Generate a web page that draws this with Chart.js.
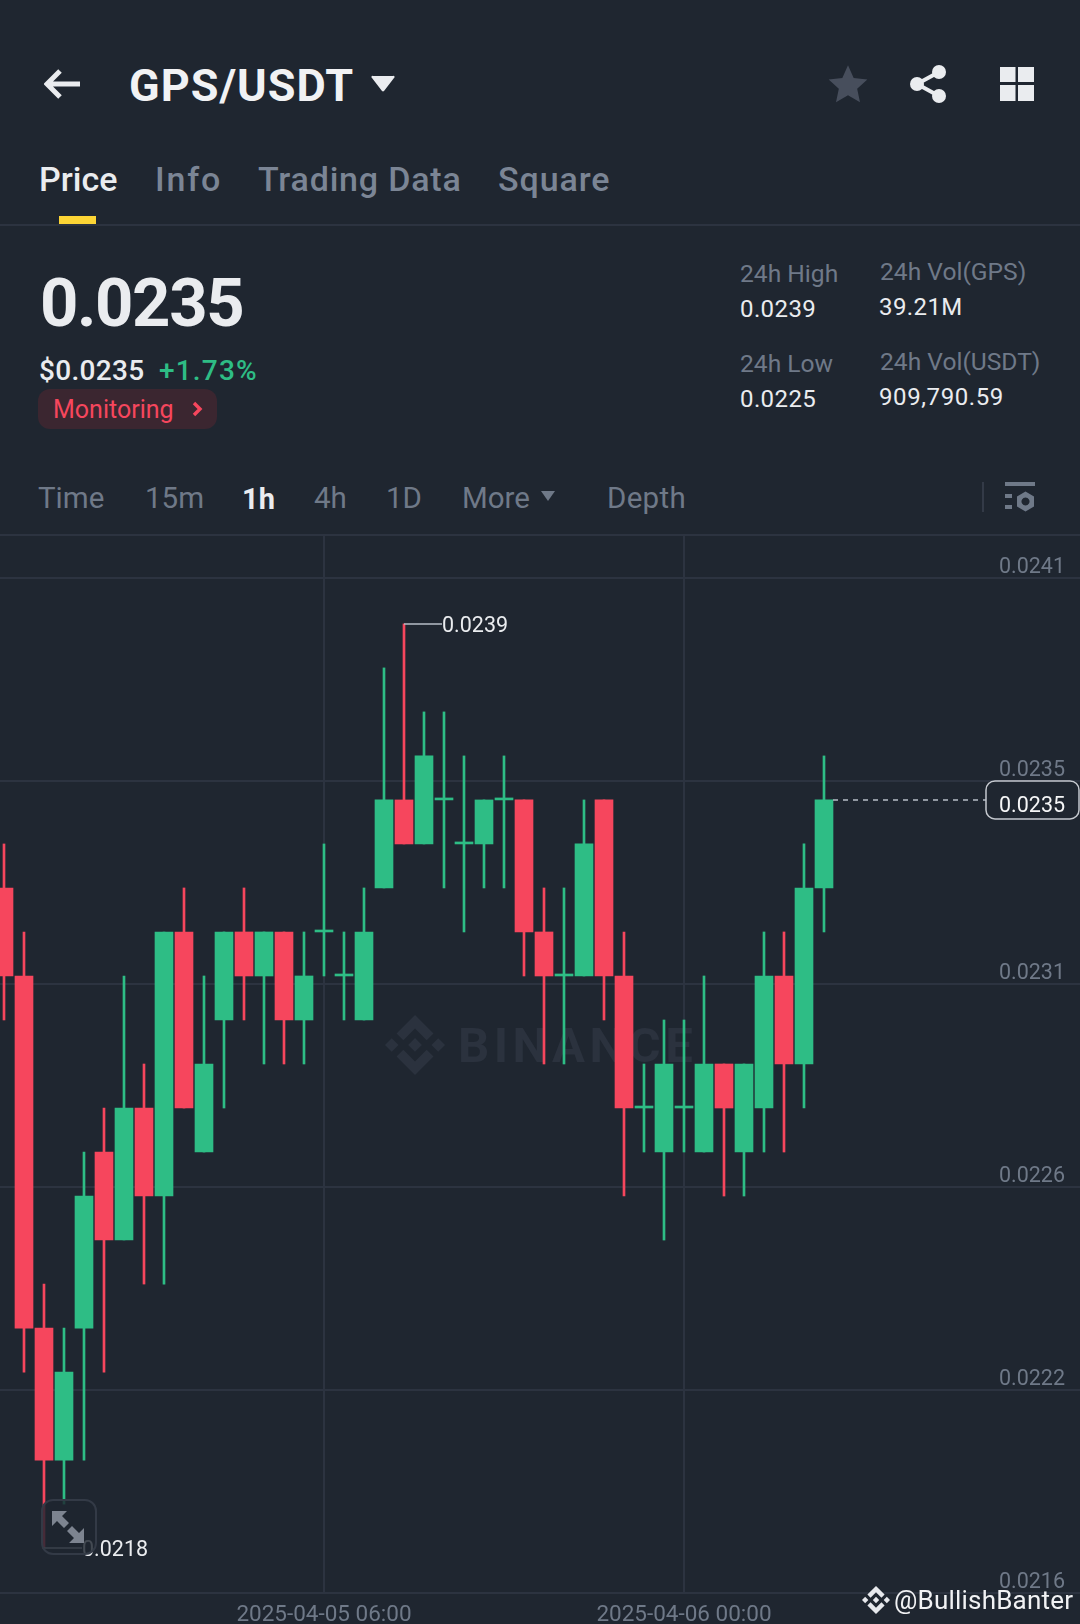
<!DOCTYPE html>
<html>
<head>
<meta charset="utf-8">
<title>GPS/USDT</title>
<script src="https://cdn.jsdelivr.net/npm/chart.js@4"></script>
<style>
  html, body { margin: 0; padding: 0; background: #1f2630; }
  body { position: relative; width: 1080px; height: 1624px; overflow: hidden; font-family: Roboto, sans-serif; color: #eaecef; }
  .t { position: absolute; white-space: nowrap; line-height: 1; transform: translateY(-50%); }
  .tab { font-size: 34px; font-weight: 500; color: #7b8595; letter-spacing: 0.8px; }
  .iv { font-size: 29.5px; color: #6f7988; letter-spacing: 0; }
  .lab { font-size: 24.6px; color: #6f7988; letter-spacing: 0; }
  .val { font-size: 24px; color: #eaecef; letter-spacing: 0.4px; }
  .line { position: absolute; left: 0; width: 1080px; height: 2px; background: #2c3340; }
  svg { position: absolute; }
  #wrap { position: absolute; left: 0; top: 535px; width: 1080px; height: 1089px; }
</style>
</head>
<body>

<!-- header -->
<svg style="left:44px;top:68px" width="38" height="32" viewBox="0 0 38 32"><path d="M36 16H4M16 3L3 16l13 13" fill="none" stroke="#eaecef" stroke-width="5"/></svg>
<div class="t" style="left:129px;top:85px;font-size:45px;font-weight:700;letter-spacing:1px;color:#f1f2f4">GPS/USDT</div>
<svg style="left:371px;top:75px" width="24" height="18" viewBox="0 0 24 18"><path d="M2 1h20a1 1 0 0 1 1 2L13 16a1.5 1.5 0 0 1-2 0L1 3a1 1 0 0 1 1-2z" fill="#eaecef"/></svg>

<svg style="left:828px;top:64px" width="40" height="40" viewBox="0 0 24 24"><path d="M12 .8l3.4 7.6 8.2.9-6.1 5.5 1.7 8.1-7.2-4.1-7.2 4.1 1.7-8.1L.4 9.3l8.2-.9z" fill="#474e5c"/></svg>
<svg style="left:909px;top:64px" width="38" height="40" viewBox="0 0 38 40"><g fill="#eaecef"><circle cx="8" cy="20" r="7"/><circle cx="30" cy="8" r="7"/><circle cx="30" cy="32" r="7"/></g><path d="M8 20L30 8M8 20l22 12" stroke="#eaecef" stroke-width="4"/></svg>
<svg style="left:1000px;top:67px" width="34" height="34" viewBox="0 0 34 34"><path d="M0 0h15.500v15H0zM18 0h16v15H18zM0 18h15.500v16H0zM18 18h16v16H18z" fill="#eaecef"/></svg>

<div class="t tab" style="left:39px;top:179px;color:#eaecef;letter-spacing:0">Price</div>
<div class="t tab" style="left:155px;top:179px;letter-spacing:1.8px">Info</div>
<div class="t tab" style="left:258px;top:179px">Trading Data</div>
<div class="t tab" style="left:498px;top:179px;letter-spacing:0.9px">Square</div>
<div style="position:absolute;left:59px;top:216px;width:37px;height:8px;background:#fcd535"></div>
<div class="line" style="top:224px"></div>

<div class="t" style="left:40px;top:303px;font-size:67px;font-weight:700;color:#eaecef;letter-spacing:-1.4px">0.0235</div>
<div class="t" style="left:39px;top:371px;font-size:28px;font-weight:500;color:#eaecef;letter-spacing:0.3px">$0.0235</div>
<div class="t" style="left:159px;top:371px;font-size:28px;font-weight:500;color:#2ebd85;letter-spacing:1.2px">+1.73%</div>
<div style="position:absolute;left:38px;top:389px;width:179px;height:40px;border-radius:12px;background:#3b2630"></div>
<div class="t" style="left:53px;top:409px;font-size:25px;color:#f6465d">Monitoring</div>
<svg style="left:192px;top:401px" width="11" height="16" viewBox="0 0 11 16"><path d="M2 2l6 6-6 6" fill="none" stroke="#f6465d" stroke-width="3.4"/></svg>

<div class="t lab" style="left:740px;top:274px">24h High</div>
<div class="t val" style="left:740px;top:309px">0.0239</div>
<div class="t lab" style="left:740px;top:364px">24h Low</div>
<div class="t val" style="left:740px;top:399px">0.0225</div>
<div class="t lab" style="left:880px;top:272px">24h Vol(GPS)</div>
<div class="t val" style="left:879px;top:307px">39.21M</div>
<div class="t lab" style="left:880px;top:362px">24h Vol(USDT)</div>
<div class="t val" style="left:879px;top:397px;letter-spacing:0.6px">909,790.59</div>

<div class="t iv" style="left:38px;top:499px">Time</div>
<div class="t iv" style="left:145px;top:499px">15m</div>
<div class="t iv" style="left:242px;top:499px;color:#eaecef;font-weight:700;font-size:29px">1h</div>
<div class="t iv" style="left:314px;top:499px">4h</div>
<div class="t iv" style="left:386px;top:499px">1D</div>
<div class="t iv" style="left:462px;top:499px">More</div>
<svg style="left:540px;top:490px" width="16" height="12" viewBox="0 0 16 12"><path d="M1 1h14L8 11z" fill="#6f7988"/></svg>
<div class="t iv" style="left:607px;top:499px;letter-spacing:0.3px">Depth</div>
<div style="position:absolute;left:982px;top:482px;width:2px;height:30px;background:#333a47"></div>
<svg style="left:1005px;top:482px" width="30" height="30" viewBox="0 0 30 30"><g fill="#6f7988"><path d="M0 0h30v4H0zM0 12h7v4H0zM0 23h7v4H0z"/><path d="M20.500 9.500l8.500 5v10l-8.500 5-8.500-5v-10zM20.500 15.500a4 4 0 1 0 .01 0z" fill-rule="evenodd"/></g></svg>
<div class="line" style="top:534px"></div>

<!-- watermark sits under the transparent canvas -->
<svg style="left:385px;top:1015px" width="60" height="60" viewBox="0 0 126.61 126.61"><g fill="#2b323e"><path d="M38.73 53.2l24.59-24.58 24.6 24.6 14.3-14.31L63.32 0 24.43 38.9z"/><path d="M0 63.31l14.3-14.31 14.31 14.31-14.31 14.3z"/><path d="M38.73 73.41l24.59 24.59 24.6-24.6 14.31 14.29-38.9 38.91-38.91-38.88-.02-.02z"/><path d="M98 63.31l14.3-14.31 14.31 14.31-14.31 14.3z"/><path d="M77.83 63.3L63.32 48.78 52.59 59.51l-1.24 1.23-2.54 2.54 14.51 14.5 14.51-14.47z"/></g></svg>
<div class="t" style="left:458px;top:1045px;font-size:49px;font-weight:700;color:#2b323e;letter-spacing:4.5px">BINANCE</div>

<div id="wrap"><canvas id="kline" width="1080" height="1089"></canvas></div>

<!-- expand button -->
<div style="position:absolute;left:41px;top:1499px;width:52px;height:52px;border:2px solid #333a46;border-radius:12px;background:rgba(31,38,48,0.82)"></div>
<svg style="left:51px;top:1510px" width="34" height="34" viewBox="0 0 34 34"><g fill="#7d8490"><path d="M1 1h15l-5 5 7 7-5 5-7-7-5 5z"/><path d="M33 33H18l5-5-7-7 5-5 7 7 5-5z"/></g></svg>

<!-- credit -->
<svg style="left:862px;top:1586px" width="28" height="28" viewBox="0 0 126.61 126.61"><g fill="#e6e8ec"><path d="M38.73 53.2l24.59-24.58 24.6 24.6 14.3-14.31L63.32 0 24.43 38.9z"/><path d="M0 63.31l14.3-14.31 14.31 14.31-14.31 14.3z"/><path d="M38.73 73.41l24.59 24.59 24.6-24.6 14.31 14.29-38.9 38.91-38.91-38.88-.02-.02z"/><path d="M98 63.31l14.3-14.31 14.31 14.31-14.31 14.3z"/><path d="M77.83 63.3L63.32 48.78 52.59 59.51l-1.24 1.23-2.54 2.54 14.51 14.5 14.51-14.47z"/></g></svg>
<div class="t" style="left:894px;top:1600px;font-size:26px;color:#f1f2f4;letter-spacing:0.2px">@BullishBanter</div>

<script>
// 1h candles, first one is 2025-04-04 14:00
const opens  = [0.0233,0.0231,0.0223,0.0220,0.0223,0.0227,0.0225,0.0228,0.0226,0.0232,0.0227,0.0230,0.0232,0.0231,0.0232,0.0230,0.0232,0.0231,0.0230,0.0233,0.0235,0.0234,0.0235,0.0234,0.0234,0.0235,0.0235,0.0232,0.0231,0.0231,0.0235,0.0231,0.0228,0.0227,0.0228,0.0227,0.0229,0.0227,0.0228,0.0231,0.0229,0.0233];
const closes = [0.0231,0.0223,0.0220,0.0222,0.0226,0.0225,0.0228,0.0226,0.0232,0.0228,0.0229,0.0232,0.0231,0.0232,0.0230,0.0231,0.0232,0.0231,0.0232,0.0235,0.0234,0.0236,0.0235,0.0234,0.0235,0.0235,0.0232,0.0231,0.0231,0.0234,0.0231,0.0228,0.0228,0.0229,0.0228,0.0229,0.0228,0.0229,0.0231,0.0229,0.0233,0.0235];
const highs  = [0.0234,0.0232,0.0224,0.0223,0.0227,0.0228,0.0231,0.0229,0.0232,0.0233,0.0231,0.0232,0.0233,0.0232,0.0232,0.0232,0.0234,0.0232,0.0233,0.0238,0.0239,0.0237,0.0237,0.0236,0.0235,0.0236,0.0235,0.0233,0.0233,0.0235,0.0235,0.0232,0.0229,0.0230,0.0230,0.0231,0.0229,0.0229,0.0232,0.0232,0.0234,0.0236];
const lows   = [0.0230,0.0222,0.0218,0.0219,0.0220,0.0222,0.0225,0.0224,0.0224,0.0228,0.0227,0.0228,0.0230,0.0229,0.0229,0.0229,0.0231,0.0230,0.0230,0.0233,0.0234,0.0234,0.0233,0.0232,0.0233,0.0233,0.0231,0.0229,0.0229,0.0231,0.0230,0.0226,0.0227,0.0225,0.0227,0.0227,0.0226,0.0226,0.0227,0.0227,0.0228,0.0232];

const priceGrid = [0.024005, 0.023543, 0.023082, 0.022621, 0.022160, 0.021698];
const priceLabels = ['0.0241', '0.0235', '0.0231', '0.0226', '0.0222', '0.0216'];
const timeTicks = [16, 34];
const timeLabels = ['2025-04-05 06:00', '2025-04-06 00:00'];
const lastPrice = 0.0235;

const UP = '#2ebd85';
const DOWN = '#f6465d';
const GRID = '#2c3340';
const colors = opens.map((o, i) => closes[i] >= o ? UP : DOWN);

const fmt = v => v.toFixed(4);

// high / low markers and the last price tag
const marks = {
  id: 'marks',
  afterDatasetsDraw(chart) {
    const ctx = chart.ctx;
    const x = chart.scales.x, y = chart.scales.y;
    ctx.save();
    ctx.font = '21.5px Roboto';
    ctx.textBaseline = 'middle';
    ctx.textAlign = 'left';

    const hi = Math.max(...highs), lo = Math.min(...lows);
    const hiX = x.getPixelForValue(highs.indexOf(hi));
    const loX = x.getPixelForValue(lows.indexOf(lo));
    ctx.strokeStyle = '#b7bdc6';
    ctx.lineWidth = 1.5;
    ctx.beginPath();
    ctx.moveTo(hiX, y.getPixelForValue(hi));
    ctx.lineTo(hiX + 38, y.getPixelForValue(hi));
    ctx.moveTo(loX, y.getPixelForValue(lo));
    ctx.lineTo(loX + 38, y.getPixelForValue(lo));
    ctx.stroke();
    ctx.fillStyle = '#eaecef';
    ctx.fillText(fmt(hi), hiX + 38, y.getPixelForValue(hi) + 3);
    ctx.fillText(fmt(lo), loX + 38, y.getPixelForValue(lo) + 3);

    const py = y.getPixelForValue(lastPrice);
    ctx.setLineDash([5, 5]);
    ctx.beginPath();
    ctx.moveTo(x.getPixelForValue(opens.length - 1) + 9, py);
    ctx.lineTo(986, py);
    ctx.stroke();
    ctx.setLineDash([]);

    ctx.beginPath();
    ctx.roundRect(986, py - 19, 93, 38, 9);
    ctx.fillStyle = '#1f2630';
    ctx.fill();
    ctx.strokeStyle = '#c4c8ce';
    ctx.lineWidth = 1.5;
    ctx.stroke();
    ctx.fillStyle = '#f5f6f7';
    ctx.fillText(fmt(lastPrice), 999, py + 7);
    ctx.restore();
  }
};

new Chart(document.getElementById('kline'), {
  type: 'bar',
  data: {
    datasets: [
      {
        label: 'body',
        data: opens.map((o, i) => ({ x: i, y: [o, closes[i]] })),
        backgroundColor: colors,
        barThickness: 18,
        minBarLength: 2,
        grouped: false
      },
      {
        label: 'wick',
        data: lows.map((l, i) => ({ x: i, y: [l, highs[i]] })),
        backgroundColor: colors,
        barThickness: 2,
        grouped: false
      }
    ]
  },
  options: {
    responsive: false,
    animation: false,
    events: [],
    layout: { padding: 0 },
    plugins: { legend: { display: false }, tooltip: { enabled: false } },
    scales: {
      x: {
        type: 'linear',
        offset: false,
        min: -0.2,
        max: 53.8,
        grid: { offset: false, color: GRID, lineWidth: 2, drawTicks: false },
        border: { display: false },
        afterBuildTicks(s) { s.ticks = timeTicks.map(v => ({ value: v })); },
        afterFit(s) { s.height = 31; },
        ticks: {
          autoSkip: false,
          maxRotation: 0,
          padding: 9,
          color: '#6f7988',
          font: { family: 'Roboto', size: 22.5 },
          callback: (v, i) => timeLabels[i]
        }
      },
      y: {
        position: 'right',
        min: 0.021698,
        max: 0.024102,
        grid: { color: GRID, lineWidth: 2, drawTicks: false },
        border: { display: false },
        afterBuildTicks(s) { s.ticks = priceGrid.map(v => ({ value: v })); },
        afterFit(s) { s.width = 0; },
        ticks: {
          mirror: true,
          padding: -15,
          labelOffset: -10,
          color: '#6f7988',
          font: { family: 'Roboto', size: 21.5 },
          callback: (v, i) => priceLabels[i]
        }
      }
    }
  },
  plugins: [marks]
});
</script>
</body>
</html>
